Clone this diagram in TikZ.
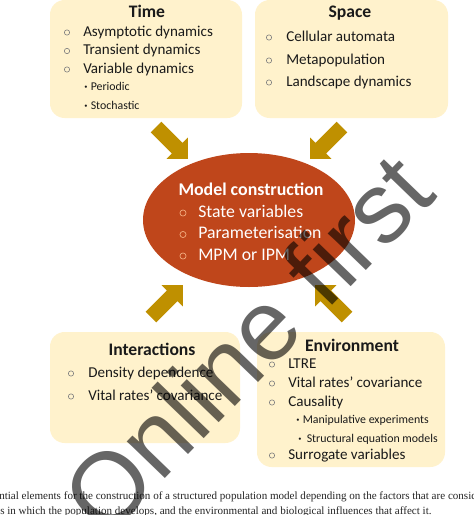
\documentclass[tikz,border=0pt]{standalone}
\usepackage{fontspec}
\setmainfont{Carlito}
\newfontfamily\capfont{Liberation Serif}
\newfontfamily\wmfont{Liberation Sans}
\usetikzlibrary{shapes.geometric}
\definecolor{boxfill}{HTML}{FFF2CC}
\definecolor{arrowcol}{HTML}{BF9000}
\definecolor{ellcol}{HTML}{BF461B}
\definecolor{txtcol}{HTML}{1A1A1A}
\definecolor{bulgray}{HTML}{7F7F7F}
\definecolor{bullight}{HTML}{F4B183}
\tikzset{
  box/.style={rectangle, rounded corners=11pt, fill=boxfill, inner sep=0pt},
  ttl/.style={font=\bfseries\fontsize{13.2}{15}\selectfont, anchor=base, inner sep=0pt, text=txtcol},
  itm/.style={font=\fontsize{11.3}{13}\selectfont, anchor=base west, inner sep=0pt, text=txtcol},
  sub/.style={font=\fontsize{8.9}{10}\selectfont, anchor=base west, inner sep=0pt, text=txtcol},
  ettl/.style={font=\bfseries\fontsize{13.4}{15}\selectfont, anchor=base, inner sep=0pt, text=white},
  eitm/.style={font=\fontsize{13.3}{15}\selectfont, anchor=base west, inner sep=0pt, text=white},
  bul/.style={circle, draw=bulgray, line width=0.45pt, minimum size=4pt, inner sep=0pt},
  ebul/.style={circle, draw=bullight, line width=0.5pt, minimum size=4.6pt, inner sep=0pt},
  barrow/.pic={\fill[arrowcol] (0,-7.5) -- (30,-7.5) -- (30,-15) -- (45,0) -- (30,15) -- (30,7.5) -- (0,7.5) -- cycle;},
  capt/.style={font=\capfont\fontsize{8.3}{10}\selectfont, anchor=base west, inner sep=0pt, text=black!85},
}
\begin{document}
\begin{tikzpicture}[x=0.75pt,y=-0.75pt]
\useasboundingbox (0,0) rectangle (474,515);
\clip (0,0) rectangle (474,515);
\fill[white] (0,0) rectangle (474,515);

% boxes
\node[box, minimum width=144pt, minimum height=88.5pt] (time) at (146,59) {};
\node[box, minimum width=144.75pt, minimum height=88.5pt] (space) at (351.5,59) {};
\node[box, minimum width=142.5pt, minimum height=83.25pt] (inter) at (145,387.5) {};
\node[box, minimum width=141pt, minimum height=101.25pt] (env) at (351,399.5) {};
\node[ellipse, fill=ellcol, minimum width=159pt, minimum height=100.5pt, inner sep=0pt] (model) at (249,220) {};

% arrows
\pic[rotate=-45] at (156,127) {barrow};
\pic[rotate=-135] at (342,127) {barrow};
\pic[rotate=45] at (151,317) {barrow};
\pic[rotate=135] at (347,317) {barrow};

% Time
\node[ttl] (tT) at (147,17) {Time};
\node[bul] (tb1) at (67,32.5) {}; \node[itm] (t1) at (83,36) {Asymptotic dynamics};
\node[bul] (tb2) at (67,51) {}; \node[itm] (t2) at (83,54.5) {Transient dynamics};
\node[bul] (tb3) at (67,69.5) {}; \node[itm] (t3) at (83,73) {Variable dynamics};
\node[sub] (t4) at (84,90) {\textbf{·}\hspace{2.5pt}Periodic};
\node[sub] (t5) at (84,109) {\textbf{·}\hspace{2.5pt}Stochastic};

% Space
\node[ttl] (sT) at (350,17) {Space};
\node[bul] (sb1) at (269,37.5) {}; \node[itm] (s1) at (286,41) {Cellular automata};
\node[bul] (sb2) at (269,60.5) {}; \node[itm] (s2) at (286,64) {Metapopulation};
\node[bul] (sb3) at (269,82.5) {}; \node[itm] (s3) at (286,86) {Landscape dynamics};

% Model construction
\node[ettl] (mT) at (251,195) {Model construction};
\node[ebul] (mb1) at (183,213) {}; \node[eitm] (m1) at (198,217) {State variables};
\node[ebul] (mb2) at (183,234.5) {}; \node[eitm] (m2) at (198,238.5) {Parameterisation};
\node[ebul] (mb3) at (183,256) {}; \node[eitm] (m3) at (198,260) {MPM or IPM};

% Interactions
\node[ttl] (iT) at (152,355) {Interactions};
\node[bul] (ib1) at (71,373.5) {}; \node[itm] (i1) at (88,377) {Density dependence};
\node[bul] (ib2) at (71,396.5) {}; \node[itm] (i2) at (88,400) {Vital rates’ covariance};

% Environment
\node[ttl] (eT) at (352,351) {Environment};
\node[bul] (eb1) at (272,364.5) {}; \node[itm] (e1) at (288,368) {LTRE};
\node[bul] (eb2) at (272,383.5) {}; \node[itm] (e2) at (288,387) {Vital rates’ covariance};
\node[bul] (eb3) at (272,402.5) {}; \node[itm] (e3) at (288,406) {Causality};
\node[sub] (e4) at (296,423) {\textbf{·}\hspace{2.5pt}Manipulative experiments};
\node[sub] (e5) at (298,442) {\textbf{·}\hspace{4pt}Structural equation models};
\node[bul] (eb6) at (272,455.5) {}; \node[itm] (e6) at (288,459) {Surrogate variables};

% caption
\node[capt] (c1) at (-1,499) {ntial elements for the construction of a structured population model depending on the factors that are considered};
\node[capt] (c2) at (0,514.5) {s in which the population develops, and the environmental and biological influences that affect it.};

% watermark
\node[rotate=46, font=\wmfont\fontsize{75}{75}\selectfont, text=black, text opacity=0.6, inner sep=0pt] (wm) at (247,343) {Online first};
\end{tikzpicture}
\end{document}
